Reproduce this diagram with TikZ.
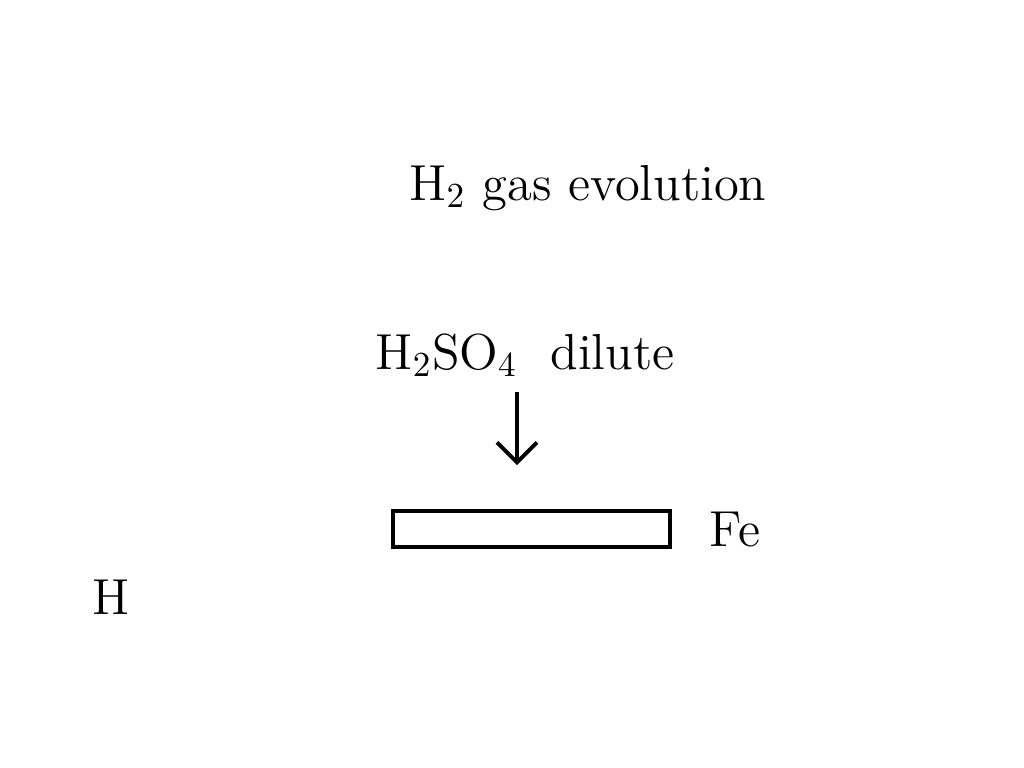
\documentclass[tikz,border=0pt]{standalone}
\usepackage{tikz}
\usetikzlibrary{arrows.meta}
\tikzset{
    label/.style={inner sep=0pt, font=\Large},
    strip/.style={draw, line width=1.1pt, rectangle, minimum width=2.77cm, minimum height=0.36cm, inner sep=0pt},
    flow/.style={line width=1.1pt, -{Straight Barb[length=2mm, width=4mm, line width=1.1pt]}}
}
\begin{document}
\begin{tikzpicture}
    \useasboundingbox (0,0) rectangle (10.24,7.68);
    \path
        node[label] (gas) at (5.88,5.80) {H$_2$ gas evolution}
        node[label] (acid) at (5.25,4.13) {H$_2$SO$_4$ \ dilute}
        node[strip] (fe) at (5.315,2.39) {}
        node[label] (metal) at (7.35,2.38) {Fe}
        node[label] (h) at (1.11,1.71) {H};

    \draw[flow, shorten <=1.5mm, shorten >=4.4mm] (acid.south -| 5.17,0) -- (fe.north -| 5.17,0);
\end{tikzpicture}
\end{document}
